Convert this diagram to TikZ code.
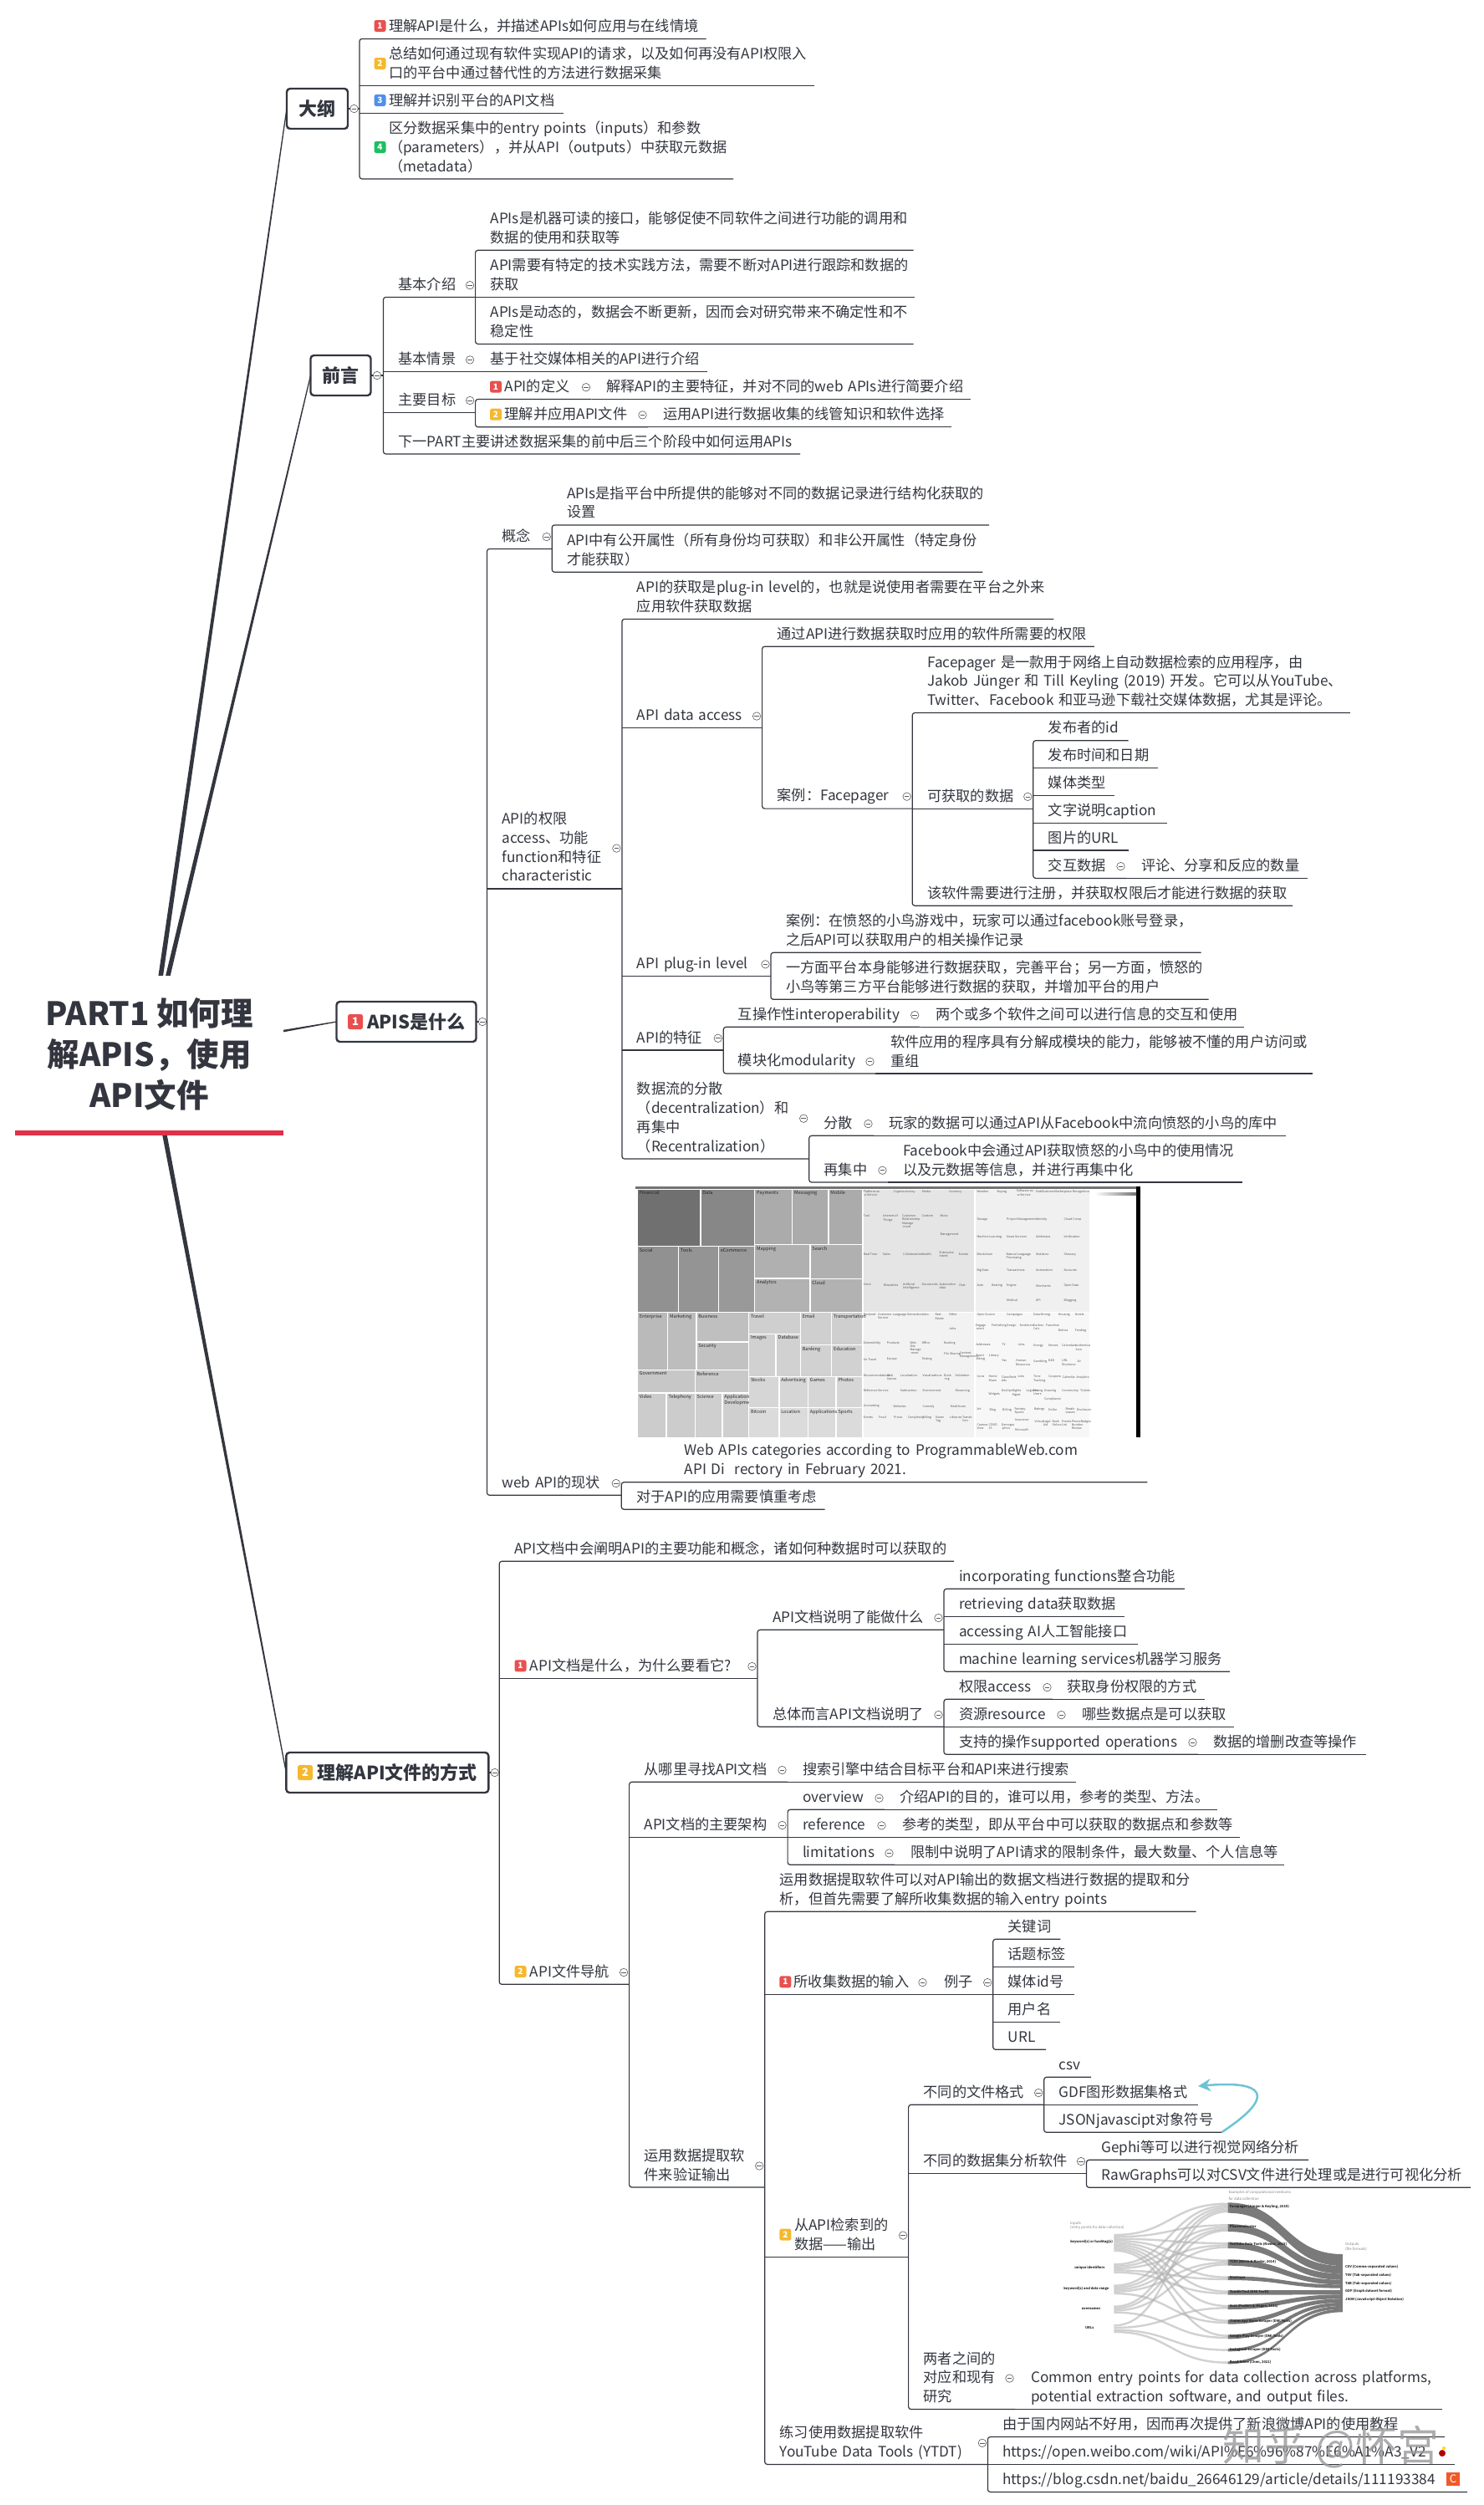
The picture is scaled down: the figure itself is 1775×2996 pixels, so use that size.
\documentclass[tikz,border=0pt]{standalone}
\usepackage{fontspec}
\setmainfont{Noto Sans CJK SC}
\usetikzlibrary{
  arrows.meta,
  backgrounds,  % Tapered main branches go behind the root
  calc,
}
\definecolor{ink}{HTML}{33363F}
\definecolor{prioa}{HTML}{E8504F}
\definecolor{priob}{HTML}{F5B82E}
\definecolor{prioc}{HTML}{4F8FEB}
\definecolor{priod}{HTML}{1DBF60}
\definecolor{rootbar}{HTML}{E0304A}
\definecolor{csdn}{HTML}{F05A28}
\definecolor{backarrow}{HTML}{6EC3D3}
\tikzset{
  x=1pt,
  y=-1pt,
  lnk/.style={draw=ink,line width=1.2pt},
  topic/.style={
    anchor=south west,
    inner xsep=0pt,
    inner ysep=5pt,
    outer sep=0pt,
    align=left,
    text=ink,
    font=\fontsize{17.2}{22.7}\selectfont
  },
  root/.style={
    fill=white,
    minimum width=321pt,
    minimum height=188pt,
    align=center,
    inner sep=0pt,
    outer sep=0pt,
    text=ink,
    font=\fontsize{38.5}{49}\selectfont\bfseries
  },
  mainbox/.style={
    draw=ink,
    fill=white,
    line width=2.4pt,
    rounded corners=4pt,
    minimum height=48pt,
    inner sep=0pt,
    outer sep=0pt,
    text=ink,
    font=\fontsize{22}{26}\selectfont\bfseries
  },
  fold/.style={
    circle,
    draw=black!65,
    fill=white,
    line width=0.6pt,
    minimum size=9.5pt,
    inner sep=0pt,
    path picture={
      \draw[black!65,line width=0.6pt]
        ([xshift=2pt]path picture bounding box.west) --
        ([xshift=-2pt]path picture bounding box.east);
    }
  },
  prio/.style={
    rounded corners=2.5pt,
    minimum size=14pt,
    inner sep=0pt,
    text=white,
    font=\fontsize{10}{10}\selectfont\bfseries
  },
  prio big/.style={
    prio,
    minimum size=18pt,
    font=\fontsize{13}{13}\selectfont\bfseries
  },
  cellname/.style={
    anchor=north west,
    inner sep=1.5pt,
    align=left,
    text=black!85,
    font=\fontsize{5.6}{6.6}\selectfont
  },
  tinyname/.style={
    anchor=north west,
    inner sep=0pt,
    align=left,
    text=black!65,
    font=\fontsize{3.6}{4.3}\selectfont
  },
  flowname/.style={
    inner sep=0pt,
    text=black!85,
    font=\fontsize{4}{5}\selectfont\bfseries
  },
  flowhead/.style={
    anchor=west,
    inner sep=0pt,
    text=black!50,
    font=\fontsize{4.3}{5}\selectfont
  },
  darkflow/.style={fill=black!52},
  lightflow/.style={draw=black!30,line width=2.4pt,opacity=.6},
  watermark/.style={
    inner sep=0pt,
    text=black!40,
    opacity=.8,
    font=\fontsize{50}{50}\selectfont
  }
}
% [text offset]{name}{left x}{right x}{underline y}{text}
\newcommand{\topic}[6][18]{
  \pgfmathsetlengthmacro\mywidth{#4-#3}
  \node[topic,text width=\mywidth] (#2) at (#3,#5)
    {\leftskip=#1pt\rightskip=-300pt plus 1fil\relax #6\rule[-4pt]{0pt}{4pt}\par};
}
\newcommand{\brkt}[2]{
  \draw[lnk,rounded corners=3pt] (#1.south east) -- (#1.south west)
    -- (#2.south west) -- (#2.south east);
}
\newcommand{\stemline}[1]{
  \foreach \n in {#1} {\draw[lnk] (\n.south west) -- (\n.south east);}
}
\newcommand{\foldat}[1]{
  \foreach \n in {#1} {\node[fold] (\n f) at ([xshift=-6.5pt]\n.east) {};}
}
\newcommand{\taper}[2]{
  \fill[ink] ($(#1)!3pt!90:(#2)$) -- ($(#1)!3pt!-90:(#2)$)
    -- ($(#2)!.6pt!90:(#1)$) -- ($(#2)!.6pt!-90:(#1)$) -- cycle;
}
\begin{document}
\begin{tikzpicture}
\useasboundingbox (0,0) rectangle (1775,2996);

\node[root] (root) at (178.6,1261) {PART1 如何理\\解APIS，使用\\API文件};
\draw[draw=rootbar,line width=6pt] (root.south west) -- (root.south east);

\node[mainbox,minimum width=73pt] (outline) at (379.5,130) {大纲};
\node[mainbox,minimum width=72pt] (preface) at (407.5,449) {前言};
\node[mainbox,minimum width=167pt] (apis) at (486,1222) {\hspace*{24pt}APIS是什么};
\node[mainbox,minimum width=242pt] (method) at (463.3,2120) {\hspace*{24pt}理解API文件的方式};
\node[prio big,fill=prioa] (apis icon) at (425,1222) {1};
\node[prio big,fill=priob] (method icon) at (365,2120) {2};

\begin{scope}[on background layer]
  \taper{root}{outline.west}
  \taper{root}{preface.west}
  \taper{root}{apis.west}
  \taper{root}{method.west}
\end{scope}

% Outline
\topic[35]{ol1}{430}{844.5}{46.4}{理解API是什么，并描述APIs如何应用与在线情境}
\topic[35]{ol2}{430}{973.7}{102.5}{总结如何通过现有软件实现API的请求，以及如何再没有API权限入\\口的平台中通过替代性的方法进行数据采集}
\topic[35]{ol3}{430}{674}{135.4}{理解并识别平台的API文档}
\topic[35]{ol4}{430}{877}{214}{区分数据采集中的entry points（inputs）和参数\\（parameters），并从API（outputs）中获取元数据\\（metadata）}
\node[prio,fill=prioa] (ol1 icon) at (454.5,31) {1};
\node[prio,fill=priob] (ol2 icon) at (454.5,76) {2};
\node[prio,fill=prioc] (ol3 icon) at (454.5,120) {3};
\node[prio,fill=priod] (ol4 icon) at (454.5,176) {4};
\brkt{ol1}{ol4}
\stemline{ol2,ol3}
\draw[lnk] (outline.east) -- (outline.east -| ol1.south west);

% Preface
\topic{pre1}{458.5}{568.6}{355.4}{基本介绍}
\topic{pre1a}{568.6}{1092.5}{299.3}{APIs是机器可读的接口，能够促使不同软件之间进行功能的调用和\\数据的使用和获取等}
\topic{pre1b}{568.6}{1094}{355.4}{API需要有特定的技术实践方法，需要不断对API进行跟踪和数据的\\获取}
\topic{pre1c}{568.6}{1092.5}{411.4}{APIs是动态的，数据会不断更新，因而会对研究带来不确定性和不\\稳定性}
\topic{pre2}{458.5}{568.6}{444.6}{基本情景}
\topic{pre2a}{568.6}{846}{444.6}{基于社交媒体相关的API进行介绍}
\topic{pre3}{458.5}{568.6}{493.2}{主要目标}
\topic[35]{pre3a}{568.6}{707.5}{477.5}{API的定义}
\topic[17.5]{pre3ax}{707.5}{1161}{477.5}{解释API的主要特征，并对不同的web APIs进行简要介绍}
\topic[35]{pre3b}{568.6}{775}{510.7}{理解并应用API文件}
\topic[18.5]{pre3bx}{775}{1138}{510.7}{运用API进行数据收集的线管知识和软件选择}
\topic{pre4}{458.5}{957}{543}{下一PART主要讲述数据采集的前中后三个阶段中如何运用APIs}
\node[prio,fill=prioa] (pre3a icon) at (593,462.5) {1};
\node[prio,fill=priob] (pre3b icon) at (593,495.7) {2};
\brkt{pre1}{pre4}
\stemline{pre2,pre3}
\brkt{pre1a}{pre1c}
\stemline{pre1b,pre2a,pre3ax,pre3bx}
\brkt{pre3a}{pre3b}
\draw[lnk] (preface.east) -- (preface.east -| pre1.south west);

% What APIs are
\topic{a1}{582.5}{660.3}{656.4}{概念}
\topic{a1a}{660.3}{1183}{627.9}{APIs是指平台中所提供的能够对不同的数据记录进行结构化获取的\\设置}
\topic{a1b}{660.3}{1175.4}{684.3}{API中有公开属性（所有身份均可获取）和非公开属性（特定身份\\才能获取）}
\topic{a2}{582.5}{743.9}{1062.9}{API的权限\\access、功能\\function和特征\\characteristic}
\topic{b1}{743.9}{1260.4}{740.4}{API的获取是plug-in level的，也就是说使用者需要在平台之外来\\应用软件获取数据}
\topic{b2}{743.9}{911.6}{870.4}{API data access}
\topic{c1}{911.6}{1308.8}{773.2}{通过API进行数据获取时应用的软件所需要的权限}
\topic{c2}{911.6}{1091.2}{967.1}{案例：Facepager}
\topic{d1}{1091.2}{1614.8}{852.5}{Facepager 是一款用于网络上自动数据检索的应用程序，由\\Jakob Jünger 和 Till Keyling (2019) 开发。它可以从YouTube、\\Twitter、Facebook 和亚马逊下载社交媒体数据，尤其是评论。}
\topic{d2}{1091.2}{1235.8}{967.1}{可获取的数据}
\topic{e1}{1235.8}{1349.5}{885.7}{发布者的id}
\topic{e2}{1235.8}{1384.6}{918.2}{发布时间和日期}
\topic{e3}{1235.8}{1333.3}{951.4}{媒体类型}
\topic{e4}{1235.8}{1395.8}{984.3}{文字说明caption}
\topic{e5}{1235.8}{1349.5}{1017}{图片的URL}
\topic{e6}{1235.8}{1347}{1050.4}{交互数据}
\topic{e6x}{1347}{1563.5}{1050.4}{评论、分享和反应的数量}
\topic{d3}{1091.2}{1546}{1083.2}{该软件需要进行注册，并获取权限后才能进行数据的获取}
\topic{b3}{743.9}{922}{1167.3}{API plug-in level}
\topic{f1}{922}{1436.5}{1139.3}{案例：在愤怒的小鸟游戏中，玩家可以通过facebook账号登录，\\之后API可以获取用户的相关操作记录}
\topic{f2}{922}{1445.6}{1195.3}{一方面平台本身能够进行数据获取，完善平台；另一方面，愤怒的\\小鸟等第三方平台能够进行数据的获取，并增加平台的用户}
\topic{b4}{743.9}{865.3}{1256}{API的特征}
\topic[17.5]{g1}{865.3}{1100.7}{1228.3}{互操作性interoperability}
\topic[18.6]{g1x}{1100.7}{1487.7}{1228.3}{两个或多个软件之间可以进行信息的交互和使用}
\topic[17.5]{g2}{865.3}{1047}{1284}{模块化modularity}
\topic{g2x}{1047}{1569.8}{1284}{软件应用的程序具有分解成模块的能力，能够被不懂的用户访问或\\重组}
\topic{b5}{743.9}{967.7}{1386}{数据流的分散\\（decentralization）和\\再集中\\（Recentralization）}
\topic{h1}{967.7}{1045}{1358.3}{分散}
\topic{h1x}{1045}{1537.5}{1358.3}{玩家的数据可以通过API从Facebook中流向愤怒的小鸟的库中}
\topic{h2}{967.7}{1062}{1414}{再集中}
\topic{h2x}{1062}{1486.3}{1414}{Facebook中会通过API获取愤怒的小鸟中的使用情况\\以及元数据等信息，并进行再集中化}
\topic{a3}{582.5}{743.3}{1788.3}{web API的现状}
\topic[75.5]{w1}{743.3}{1372.3}{1772.7}{Web APIs categories according to ProgrammableWeb.com\\API Di\ \ rectory in February 2021.}
\topic{w2}{743.3}{986.6}{1805.3}{对于API的应用需要慎重考虑}
\brkt{a1}{a3}
\stemline{a2}
\brkt{a1a}{a1b}
\brkt{b1}{b5}
\stemline{b2,b3,b4}
\brkt{c1}{c2}
\brkt{d1}{d3}
\stemline{d2}
\brkt{e1}{e6}
\stemline{e2,e3,e4,e5,e6x}
\brkt{f1}{f2}
\brkt{g1}{g2}
\stemline{g1x,g2x}
\brkt{h1}{h2}
\stemline{h1x,h2x}
\brkt{w1}{w2}
\draw[lnk] (apis.east) -- (apis.east -| a1.south west);

% Treemap of the web API categories
\begin{scope}[shift={(580,1400)},x=.5102pt,y=-.3333pt]
  \fill[black!55] (353,58) rectangle (1527,66);
  \fill[black] (1527,58) rectangle (1537,957);
  \fill[black!10] (887,68) rectangle (1147,507);
  \fill[black!6] (1150,68) rectangle (1418,507);
  \fill[black!5] (887,510) rectangle (1147,957);
  \fill[black!3] (1150,510) rectangle (1418,957);
  \shade[left color=white,right color=black!55] (1430,78) rectangle (1527,88);
  \foreach \xa/\ya/\xb/\yb/\g/\lab [count=\i] in {
    359/68/503/270/56/Financial, 507/68/631/270/47/Data,
    634/68/719/264/33/Payments, 722/68/804/264/33/Messaging,
    807/68/884/264/33/Mobile, 359/274/452/507/43/Social,
    455/274/546/507/42/Tools, 549/274/631/507/40/eCommerce,
    634/267/761/385/31/Mapping, 764/267/884/388/31/Search,
    634/389/761/507/30/Analytics, 764/391/884/507/30/Cloud,
    359/510/427/713/27/Enterprise, 430/510/494/713/26/Marketing,
    497/510/617/613/25/Business, 497/617/617/713/24/Security,
    620/510/738/584/19/Travel, 620/587/681/737/18/Images,
    684/587/738/737/18/Database, 741/510/811/625/19/Email,
    814/510/884/625/19/Transportation, 741/628/811/737/18/Banking,
    814/628/884/737/18/Education, 359/717/491/796/22/Government,
    494/717/617/796/21/Reference, 359/800/424/957/20/Video,
    427/800/491/957/20/Telephony, 494/800/555/957/19/Science,
    558/800/617/957/19/{Application\\Development},
    620/740/688/850/16/Stocks, 691/740/756/850/16/Advertising,
    759/740/822/850/16/Games, 825/740/884/850/16/Photos,
    620/853/688/957/14/Bitcoin, 691/853/756/957/14/Location,
    759/853/822/957/14/Applications, 825/853/884/957/14/Sports
  } {
    \fill[black!\g] (\xa,\ya) rectangle (\xb,\yb);
    \node[cellname] (cell\i) at (\xa,\ya) {\lab};
  }
\end{scope}
\begin{scope}[shift={(1020,1415)},x=.3333pt,y=-.3333pt]
  \foreach \xc/\yc/\lab [count=\i] in {
    37/25/{Platform-as\\-a-Service}, 145/25/Cryptocurrency, 248/25/Media,
    345/25/Currency, 445/25/Weather, 517/25/Buying,
    587/23/{Software-as\\-a-Service}, 657/25/Notifications,
    723/25/Marketplace, 788/25/Recognition,
    38/113/Tool, 108/113/{Internet of\\Things}, 177/113/{Customer\\Relationship\\Manage\\-ment},
    247/113/Content, 313/113/Music, 313/180/Management, 445/125/Storage,
    552/125/Project Management, 657/125/Identity, 757/125/Cloud Comp.,
    445/188/Machine Learning, 552/188/News Services, 657/188/Addresses, 757/188/Verification,
    38/250/Real Time, 108/250/Sales, 180/250/Collaboration, 247/250/Health,
    310/245/{Enterprise\\Intent}, 380/250/Events, 445/250/Blockchain,
    550/250/{Natural Language\\Processing}, 657/250/Statistics, 757/250/Glossary,
    445/307/Big Data, 552/307/Transactions, 657/307/Automation, 757/307/Accounts,
    38/360/Voice, 110/360/Wearables, 180/358/{Artificial\\Intelligence}, 247/360/Documents,
    310/358/{Automotive\\data}, 380/360/Chat, 445/363/Auto, 497/363/Heating,
    552/363/Engine, 657/363/Merchants, 757/363/Open Data,
    552/415/Medical, 657/415/API, 757/415/Blogging,
    38/467/Backend, 90/467/{Customer\\Service}, 143/467/Language, 195/467/Semantics,
    248/467/Auto, 295/467/{Real\\Estate}, 345/467/Other, 345/518/Jobs,
    445/467/Open Source, 552/467/Campaigns, 648/467/Data Mining, 737/467/Housing, 797/467/Hotels,
    440/505/{Engage\\-ment}, 497/505/Publishing, 552/505/Design, 598/505/Sentiment,
    648/505/{Carbon\\Calc}, 692/505/Franchise, 737/522/Bolivia, 797/522/Feeding,
    38/567/Extensibility, 122/567/Products, 205/567/{Web\\Site\\Manage\\-ment}, 247/567/Office,
    327/567/Backing, 327/607/File Sharing, 383/605/{Content\\Management},
    442/575/Addresses, 535/575/TV, 592/575/Jobs, 648/578/Energy, 702/578/Movies,
    750/578/Calendars, 798/578/{Authentica\\-tion}, 442/613/{Event\\Biking}, 488/613/Library,
    535/633/Fax, 585/633/{Human\\Resources}, 648/633/Gambling, 702/633/B2B,
    750/633/{URL\\Shortener}, 805/635/Air, 38/627/Air Travel, 122/627/Europe, 247/627/Testing,
    38/685/Recommendations, 122/685/{Web\\Games}, 170/685/Localization, 250/685/Visualizations,
    327/685/{Book\\-ing}, 367/685/Validation, 445/690/Icons, 487/690/{Home\\Share}, 533/690/{Classifieds\\Ads},
    592/690/Lists, 648/690/{Time\\Tracking}, 702/690/Coupons, 752/690/Calendar, 802/690/Analytics,
    38/740/Reference Service, 170/740/Subtraction, 250/740/Environment, 367/740/Streaming,
    487/750/Widgets, 533/740/DevOps, 572/740/{Rights\\Mgmt}, 622/740/Logistics,
    648/740/{Mining\\Users}, 687/740/Drawing, 750/740/Community, 816/740/Tickets, 687/770/Compliance,
    38/795/Accounting, 145/795/Websites, 250/795/Comedy, 350/795/Healthcare,
    445/807/Art, 490/807/Blog, 537/807/Billing, 580/805/{Fantasy\\Sports}, 650/807/Ratings,
    702/807/Dollar, 763/805/{Resale\\Leases}, 803/807/Disclosure,
    38/835/Events, 93/835/Food, 147/835/Prices, 197/835/Complexity, 250/835/Billing,
    297/835/{Name\\Tag}, 347/835/Libraries, 393/835/{Transit\\Gen}, 445/863/{Camera\\View},
    487/863/{COVID\\19}, 533/863/{Demogra\\-phics}, 582/845/Insurance, 582/880/Microsoft,
    652/850/Virtual, 683/850/{Legal\\Aid}, 715/850/{Bank\\Online}, 750/850/{Events\\List},
    785/850/{Phone\\Number\\Review}, 818/850/Badges
  } {
    \node[tinyname] (tiny\i) at (\xc,\yc) {\lab};
  }
\end{scope}

% Documents and extraction
\topic{m1}{597.2}{1141}{1867.3}{API文档中会阐明API的主要功能和概念，诸如何种数据时可以获取的}
\topic[36.5]{m2}{597.2}{906}{2007.3}{API文档是什么，为什么要看它?}
\topic{n1}{906}{1129}{1949.3}{API文档说明了能做什么}
\topic{o1}{1129}{1416.8}{1900.3}{incorporating functions整合功能}
\topic{o2}{1129}{1344.5}{1933.3}{retrieving data获取数据}
\topic{o3}{1129}{1361.4}{1966.3}{accessing AI人工智能接口}
\topic{o4}{1129}{1470.9}{1999.3}{machine learning services机器学习服务}
\topic{n2}{906}{1129}{2065.3}{总体而言API文档说明了}
\topic{p1}{1129}{1259}{2032.3}{权限access}
\topic[17.5]{p1x}{1259}{1441.4}{2032.3}{获取身份权限的方式}
\topic{p2}{1129}{1276}{2065.3}{资源resource}
\topic[18.7]{p2x}{1276}{1475.8}{2065.3}{哪些数据点是可以获取}
\topic{p3}{1129}{1433}{2098.3}{支持的操作supported operations}
\topic{p3x}{1433}{1633.7}{2098.3}{数据的增删改查等操作}
\topic[36.5]{m3}{597.2}{752.6}{2373.3}{API文件导航}
\topic{q1}{752.6}{942}{2131.3}{从哪里寻找API文档}
\topic{q1x}{942}{1286.7}{2131.3}{搜索引擎中结合目标平台和API来进行搜索}
\topic{q2}{752.6}{942.1}{2197.3}{API文档的主要架构}
\topic{r1}{942.1}{1058}{2164.3}{overview}
\topic{r1x}{1058}{1455.8}{2164.3}{介绍API的目的，谁可以用，参考的类型、方法。}
\topic{r2}{942.1}{1061}{2197.3}{reference}
\topic{r2x}{1061}{1482.5}{2197.3}{参考的类型，即从平台中可以获取的数据点和参数等}
\topic{r3}{942.1}{1070}{2230.3}{limitations}
\topic[19.5]{r3x}{1070}{1535.8}{2230.3}{限制中说明了API请求的限制条件，最大数量、个人信息等}
\topic{q3}{752.6}{914.7}{2616}{运用数据提取软\\件来验证输出}
\topic{s1}{914.7}{1430.5}{2286.3}{运用数据提取软件可以对API输出的数据文档进行数据的提取和分\\析，但首先需要了解所收集数据的输入entry points}
\topic[35]{s2}{914.7}{1110}{2385.3}{所收集数据的输入}
\topic[19.5]{s2x}{1110}{1187.7}{2385.3}{例子}
\topic{t1}{1187.7}{1268.4}{2319.3}{关键词}
\topic{t2}{1187.7}{1285.3}{2352.3}{话题标签}
\topic{t3}{1187.7}{1285.3}{2385.3}{媒体id号}
\topic{t4}{1187.7}{1268.4}{2418.3}{用户名}
\topic{t5}{1187.7}{1250.9}{2451.3}{URL}
\topic[35.5]{s3}{914.7}{1086.6}{2699.2}{从API检索到的\\数据——输出}
\topic{u1}{1086.6}{1248.7}{2517.3}{不同的文件格式}
\topic{v1}{1248.7}{1305.2}{2484.3}{csv}
\topic{v2}{1248.7}{1433}{2517.3}{GDF图形数据集格式}
\topic{v3}{1248.7}{1461}{2550.3}{JSONjavascipt对象符号}
\topic{u2}{1086.6}{1299.5}{2599.2}{不同的数据集分析软件}
\topic{x1}{1299.5}{1565}{2583.3}{Gephi等可以进行视觉网络分析}
\topic{x2}{1299.5}{1759}{2616.2}{RawGraphs可以对CSV文件进行处理或是进行可视化分析}
\topic{u3}{1086.6}{1214}{2881.5}{两者之间的\\对应和现有\\研究}
\topic[19.3]{u3x}{1214}{1724.7}{2881.5}{Common entry points for data collection across platforms,\\potential extraction software, and output files.}
\topic{s4}{914.7}{1181.4}{2947.4}{练习使用数据提取软件\\YouTube Data Tools (YTDT)}
\topic{y1}{1181.4}{1728}{2914.5}{由于国内网站不好用，因而再次提供了新浪微博API的使用教程}
\topic{y2}{1181.4}{1739.6}{2947.4}{https://open.weibo.com/wiki/API\%E6\%96\%87\%E6\%A1\%A3\_V2}
\topic{y3}{1181.4}{1755}{2980.4}{https://blog.csdn.net/baidu\_26646129/article/details/111193384}
\node[prio,fill=prioa] (m2 icon) at (622.5,1992.3) {1};
\node[prio,fill=priob] (m3 icon) at (622.5,2358) {2};
\node[prio,fill=prioa] (s2 icon) at (939.3,2370.3) {1};
\node[prio,fill=priob] (s3 icon) at (939.4,2672.6) {2};
\node[prio,fill=csdn,rounded corners=0pt,minimum size=16pt,font=\fontsize{13}{13}\selectfont] (csdn logo) at (1738,2964.8) {C};
\node[circle,fill=red!70!black,minimum size=8pt,inner sep=0pt] (weibo logo) at (1725,2934) {};
\node[circle,fill=yellow!80!orange,minimum size=4pt,inner sep=0pt] (weibo top) at (1727,2928) {};
\brkt{m1}{m3}
\stemline{m2}
\brkt{n1}{n2}
\brkt{o1}{o4}
\stemline{o2,o3}
\brkt{p1}{p3}
\stemline{p2,p1x,p2x,p3x}
\brkt{q1}{q3}
\stemline{q2,q1x}
\brkt{r1}{r3}
\stemline{r2,r1x,r2x,r3x}
\brkt{s1}{s4}
\stemline{s2,s2x,s3}
\brkt{t1}{t5}
\stemline{t2,t3,t4}
\brkt{u1}{u3}
\stemline{u2,u3x}
\brkt{v1}{v3}
\stemline{v2}
\brkt{x1}{x2}
\brkt{y1}{y3}
\stemline{y2}
\draw[lnk] (method.east) -- (method.east -| m1.south west);

% Flows between entry points, software and output files
\begin{scope}[shift={(1260,2615)},x=.3333pt,y=-.3333pt]
  \foreach \a/\b in {
    174/62, 181/139, 188/204, 195/266, 202/326, 209/377, 216/429, 223/482, 230/536,
    280/69, 287/146, 294/211, 301/333, 308/384,
    356/76, 363/153, 370/218, 377/273, 384/489,
    431/83, 438/158, 445/280, 452/543,
    499/90, 507/436, 515/587, 522/632
  } {
    \draw[lightflow] (217,\a) .. controls (420,\a) and (420,\b) .. (626,\b);
  }
  \foreach \a/\b/\c/\d in {
    58/95/243/285, 135/162/285/313, 200/222/313/335, 262/284/335/352,
    322/336/352/365, 373/389/372/388, 425/441/388/403, 478/494/403/417,
    532/547/417/429, 582/592/429/440, 628/637/440/451
  } {
    \fill[darkflow] (626,\a) .. controls (830,\a) and (830,\c) .. (1037,\c)
      -- (1037,\d) .. controls (830,\d) and (830,\b) .. (626,\b) -- cycle;
  }
  \fill[darkflow] (1028,243) rectangle (1037,451);
  \foreach \xc/\yc/\lab [count=\i] in {
    137/200/keyword(s) or hashtag(s), 130/291/unique identifiers,
    118/368/keyword(s) and data range, 135/439/usernames, 130/507/URLs
  } {
    \node[flowname] (input\i) at (\xc,\yc) {\lab};
  }
  \foreach \yc/\lab [count=\i] in {
    73/{Facepager (Jünger \& Keyling, 2019)}, 145/Phantombuster,
    208/{YouTube Data Tools (Rieder, 2015)}, 270/{TCAT (Borra \& Rieder, 2014)},
    327/Snscrape, 380/{TumblrTool (DMI Tools)}, 431/{4cat (Peeters \& Hagen, 2021)},
    484/{iTunes App Store Scraper (DMI Tools)}, 537/{Google Play Scraper (DMI Tools)},
    586/{Instagram Scraper (DMI Tools)}, 631/{Bumblebee (Chen, 2021)}
  } {
    \node[flowname,anchor=west] (tool\i) at (632,\yc) {\lab};
  }
  \foreach \yc/\lab [count=\i] in {
    288/{CSV (Comma-separated values)}, 319/{TSV (Tab-separated values)},
    348/{TAB (Tab-separated values)}, 377/{GDF (Graph dataset format)},
    407/{JSON (JavaScript Object Notation)}
  } {
    \node[flowname,anchor=west] (output\i) at (1047,\yc) {\lab};
  }
  \node[flowhead] (head in) at (60,133) {Inputs};
  \node[flowhead] (head in2) at (60,149) {(entry points for data collection)};
  \node[flowhead] (head tool) at (628,23) {Examples of computational mediums};
  \node[flowhead] (head tool2) at (628,43) {for data collection};
  \node[flowhead] (head out) at (1047,207) {Outputs};
  \node[flowhead] (head out2) at (1047,226) {(file formats)};
\end{scope}

\foldat{pre1,pre2,pre3,pre3a,pre3b}
\foldat{a1,a2,b2,c2,d2,e6,b3,b4,g1,g2,b5,h1,h2,a3}
\foldat{m2,n1,n2,p1,p2,p3,m3,q1,q2,r1,r2,r3,q3,s2,s2x,s3,u1,u2,u3,s4}
\node[fold] (outline f) at ([xshift=7.5pt]outline.east) {};
\node[fold] (preface f) at ([xshift=7.5pt]preface.east) {};
\node[fold] (apis f) at ([xshift=7.5pt]apis.east) {};
\node[fold] (method f) at ([xshift=7.5pt]method.east) {};

\draw[draw=backarrow,line width=2.5pt,-{Stealth[length=15pt,width=15pt]}]
  (v3.south east) .. controls (1530,2505) and (1510,2488) .. ([yshift=8pt]v2.east);
\node[watermark] (mark) at (1592,2927) {知乎 @怀宫};
\end{tikzpicture}
\end{document}
